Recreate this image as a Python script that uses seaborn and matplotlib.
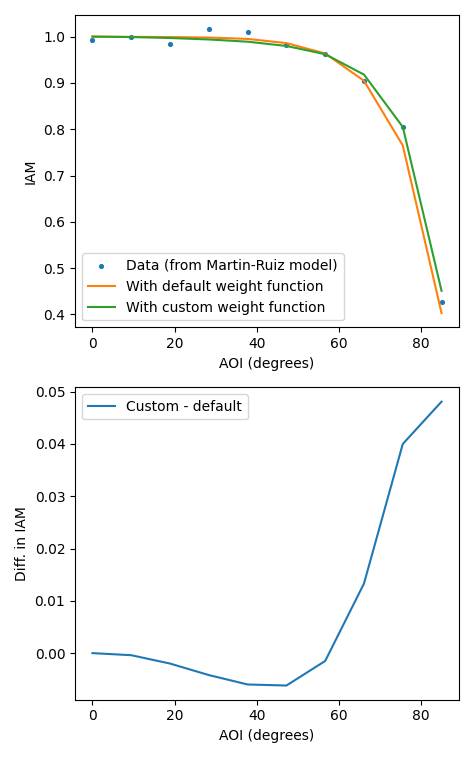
import numpy as np
import matplotlib
matplotlib.use("Agg")
import matplotlib.pyplot as plt
import seaborn as sns

# AOI points (degrees)
aoi = [0.0, 9.44, 18.89, 28.33, 37.78, 47.22, 56.67, 66.11, 75.56, 85.0]
# Martin-Ruiz data points
iam_data = [0.993, 1.000, 0.984, 1.016, 1.010, 0.982, 0.962, 0.905, 0.805, 0.427]
# fitted curves
iam_default = [1.000, 0.9994, 0.999, 0.998, 0.995, 0.986, 0.9635, 0.9047, 0.765, 0.403]
iam_custom = [1.000, 0.999, 0.997, 0.9938, 0.989, 0.9798, 0.962, 0.918, 0.805, 0.451]
iam_diff = [0.0, -0.0004, -0.0020, -0.0042, -0.0060, -0.0062, -0.0015, 0.0133, 0.0400, 0.0481]

fig, (ax1, ax2) = plt.subplots(2, 1, figsize=(4.74, 7.58), dpi=100)

sns.scatterplot(x=aoi, y=iam_data, ax=ax1, color="C0", s=14, linewidth=0,
                label="Data (from Martin-Ruiz model)")
sns.lineplot(x=aoi, y=iam_default, ax=ax1, color="C1", label="With default weight function")
sns.lineplot(x=aoi, y=iam_custom, ax=ax1, color="C2", label="With custom weight function")
ax1.set_xlabel("AOI (degrees)")
ax1.set_ylabel("IAM")
ax1.legend(loc="lower left")

sns.lineplot(x=aoi, y=iam_diff, ax=ax2, color="C0", label="Custom - default")
ax2.set_xlabel("AOI (degrees)")
ax2.set_ylabel("Diff. in IAM")
ax2.legend(loc="upper left")

fig.tight_layout()
fig.savefig("out.png")
